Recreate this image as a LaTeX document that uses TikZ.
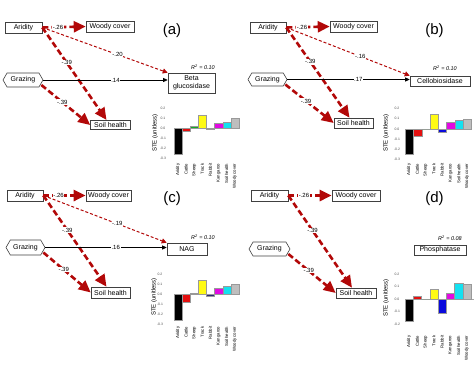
\documentclass[tikz,border=0pt]{standalone}
\usepackage{fontspec}
\setmainfont{Liberation Sans}
\usetikzlibrary{arrows.meta,shapes.symbols}

\definecolor{pathred}{RGB}{178,8,8}
\definecolor{cattle}{RGB}{228,16,16}
\definecolor{sheep}{RGB}{20,170,40}
\definecolor{track}{RGB}{255,250,20}
\definecolor{rabbitdark}{RGB}{40,40,120}
\definecolor{rabbit}{RGB}{10,10,220}
\definecolor{kangaroo}{RGB}{225,10,225}
\definecolor{soilc}{RGB}{20,225,240}
\definecolor{woodyc}{RGB}{190,190,190}

\begin{document}
\begin{tikzpicture}[x=1pt, y=-1pt,
    box/.style={draw=black!75, line width=0.6pt, fill=white, inner sep=1pt, minimum height=11pt, font=\fontsize{7}{8}\selectfont},
    grazebox/.style={shape=signal, signal to=west and east, signal pointer angle=120, draw=black!75, line width=0.6pt, fill=white, inner sep=1pt, font=\fontsize{7}{8}\selectfont},
    redthick/.style={draw=pathred, line width=2.6pt, dash pattern=on 6pt off 3pt, -{Triangle[length=12pt,width=11pt]}},
    redthin/.style={draw=pathred, line width=1pt, dash pattern=on 3pt off 2pt, -{Triangle[length=5pt,width=5pt]}},
    blackarr/.style={draw=black, line width=0.8pt, -{Triangle[length=4.5pt,width=4pt]}},
    coef/.style={fill=white, inner sep=0.6pt, font=\fontsize{6}{7}\selectfont},
    panel/.style={font=\fontsize{15}{17}\selectfont},
    rsq/.style={font=\fontsize{5.5}{6}\selectfont\itshape},
    ticklab/.style={font=\fontsize{3.4}{4}\selectfont, text=black!70},
    catlab/.style={rotate=90, anchor=east, inner sep=0.5pt, font=\fontsize{4.3}{5}\selectfont},
    axlab/.style={rotate=90, font=\fontsize{6}{7}\selectfont},
    bar/.style={draw=black!40, line width=0.2pt},
    zeroline/.style={draw=black!35, line width=0.3pt}
]
\useasboundingbox (0,0) rectangle (474,369);

% Panel (a)
\node[box, minimum width=37pt] (aridA) at (23.5,27.5) {Aridity};
\node[box, minimum width=48pt] (woodyA) at (110,26.5) {Woody cover};
\node[grazebox, minimum width=40pt, minimum height=14pt] (grazA) at (23,80) {Grazing};
\node[box, minimum width=47pt, minimum height=20pt, align=center, font=\fontsize{7}{8.5}\selectfont] (betaA) at (191.5,83) {Beta\\glucosidase};
\node[box, minimum width=40pt, minimum height=9.5pt] (soilA) at (110.5,125) {Soil health};
\node[panel] (tagA) at (172,31) {(a)};
\node[rsq] (rsqA) at (203,67) {R\textsuperscript{2} = 0.10};

\draw[redthick] (aridA.east) -- node[coef, pos=.36] (cA1) {-.26} (woodyA.west);
\draw[redthin] (aridA.east) -- node[coef, pos=.6] (cA2) {-.20} (betaA.north west);
\draw[redthick] (aridA.east) -- node[coef, pos=.38] (cA3) {-.39} ([xshift=-4pt]soilA.north);
\draw[redthick] ([shift={(-2,5)}]grazA.east) -- node[coef, pos=.43] (cA4) {-.39} (soilA.west);
\draw[blackarr] (grazA.east) -- node[coef, pos=.58] (cA5) {.14} (grazA.east -| betaA.west);

% STE bars (a)
\draw[zeroline] (174,128) -- (239,128);
\foreach \v/\c [count=\i from 0] in {-0.26/black, -0.03/cattle, 0.02/sheep, 0.13/track, -0.01/rabbitdark, 0.05/kangaroo, 0.06/soilc, 0.10/woodyc}
  \filldraw[bar, fill=\c] ({174+\i*8.1},128) rectangle ++(8.1,{0-100*(\v)});
\foreach \t [count=\i from 0] in {0.2,0.1,0.0,-0.1,-0.2,-0.3}
  \node[ticklab] (tkA\i) at (163,{108+\i*10}) {\t};
\foreach \t [count=\i from 0] in {Aridity,Cattle,Sheep,Track,Rabbit,Kangaroo,Soil health,Woody cover}
  \node[catlab] (ctA\i) at ({178+\i*8.1},163) {\t};
\node[axlab] (axA) at (155,133) {STE (unitless)};

% Panel (b)
\node[box, minimum width=36pt] (aridB) at (268,27.5) {Aridity};
\node[box, minimum width=47pt] (woodyB) at (353.5,26.5) {Woody cover};
\node[grazebox, minimum width=39pt, minimum height=13pt] (grazB) at (267.5,79.5) {Grazing};
\node[box, minimum width=60pt, minimum height=10pt] (cellB) at (440,81) {Cellobiosidase};
\node[box, minimum width=39pt, minimum height=10pt] (soilB) at (353.5,123) {Soil health};
\node[panel] (tagB) at (434.5,31) {(b)};
\node[rsq] (rsqB) at (445,68) {R\textsuperscript{2} = 0.10};

\draw[redthick] (aridB.east) -- node[coef, pos=.36] (cB1) {-.26} (woodyB.west);
\draw[redthin] (aridB.east) -- node[coef, pos=.6] (cB2) {-.16} (cellB.north west);
\draw[redthick] (aridB.east) -- node[coef, pos=.38] (cB3) {-.39} ([xshift=-4pt]soilB.north);
\draw[redthick] ([shift={(-2,5)}]grazB.east) -- node[coef, pos=.43] (cB4) {-.39} (soilB.west);
\draw[blackarr] (grazB.east) -- node[coef, pos=.58] (cB5) {.17} (grazB.east -| cellB.west);

% STE bars (b)
\draw[zeroline] (405,129) -- (472,129);
\foreach \v/\c [count=\i from 0] in {-0.25/black, -0.07/cattle, 0/sheep, 0.15/track, -0.03/rabbit, 0.07/kangaroo, 0.09/soilc, 0.10/woodyc}
  \filldraw[bar, fill=\c] ({405+\i*8.3},129) rectangle ++(8.3,{0-100*(\v)});
\foreach \t [count=\i from 0] in {0.2,0.1,0.0,-0.1,-0.2,-0.3}
  \node[ticklab] (tkB\i) at (397,{108.5+\i*10.2}) {\t};
\foreach \t [count=\i from 0] in {Aridity,Cattle,Sheep,Track,Rabbit,Kangaroo,Soil health,Woody cover}
  \node[catlab] (ctB\i) at ({409+\i*8.3},163) {\t};
\node[axlab] (axB) at (386,133) {STE (unitless)};

% Panel (c)
\node[box, minimum width=36pt] (aridC) at (25,195.5) {Aridity};
\node[box, minimum width=45pt] (woodyC) at (108.5,195.5) {Woody cover};
\node[grazebox, minimum width=39pt, minimum height=15pt] (grazC) at (25.5,247.5) {Grazing};
\node[box, minimum width=40pt, minimum height=12pt] (nagC) at (187,249) {NAG};
\node[box, minimum width=39pt, minimum height=11pt] (soilC) at (110.5,292.5) {Soil health};
\node[panel] (tagC) at (172,198.5) {(c)};
\node[rsq] (rsqC) at (203,237) {R\textsuperscript{2} = 0.10};

\draw[redthick] (aridC.east) -- node[coef, pos=.36] (cC1) {-.26} (woodyC.west);
\draw[redthin] (aridC.east) -- node[coef, pos=.6] (cC2) {-.19} (nagC.north west);
\draw[redthick] (aridC.east) -- node[coef, pos=.38] (cC3) {-.39} ([xshift=-4pt]soilC.north);
\draw[redthick] ([shift={(-2,5)}]grazC.east) -- node[coef, pos=.43] (cC4) {-.39} (soilC.west);
\draw[blackarr] (grazC.east) -- node[coef, pos=.58] (cC5) {.16} (grazC.east -| nagC.west);

% STE bars (c)
\draw[zeroline] (174,294) -- (239,294);
\foreach \v/\c [count=\i from 0] in {-0.26/black, -0.08/cattle, 0.01/sheep, 0.14/track, -0.02/rabbitdark, 0.06/kangaroo, 0.08/soilc, 0.10/woodyc}
  \filldraw[bar, fill=\c] ({174+\i*8.1},294) rectangle ++(8.1,{0-100*(\v)});
\foreach \t [count=\i from 0] in {0.2,0.1,0.0,-0.1,-0.2,-0.3}
  \node[ticklab] (tkC\i) at (160,{274+\i*10}) {\t};
\foreach \t [count=\i from 0] in {Aridity,Cattle,Sheep,Track,Rabbit,Kangaroo,Soil health,Woody cover}
  \node[catlab] (ctC\i) at ({178+\i*8.1},326) {\t};
\node[axlab] (axC) at (154,297) {STE (unitless)};

% Panel (d)
\node[box, minimum width=37pt] (aridD) at (269.5,195.5) {Aridity};
\node[box, minimum width=48pt] (woodyD) at (356,195.5) {Woody cover};
\node[grazebox, minimum width=41pt, minimum height=14pt] (grazD) at (269.5,249) {Grazing};
\node[box, minimum width=52pt, minimum height=10pt] (phosD) at (440,250) {Phosphatase};
\node[box, minimum width=40pt, minimum height=10pt] (soilD) at (356,293) {Soil health};
\node[panel] (tagD) at (434.5,198.5) {(d)};
\node[rsq] (rsqD) at (450,238) {R\textsuperscript{2} = 0.08};

\draw[redthick] (aridD.east) -- node[coef, pos=.36] (cD1) {-.26} (woodyD.west);
\draw[redthick] (aridD.east) -- node[coef, pos=.38] (cD3) {-.39} ([xshift=-4pt]soilD.north);
\draw[redthick] ([shift={(-2,5)}]grazD.east) -- node[coef, pos=.43] (cD4) {-.39} (soilD.west);

% STE bars (d)
\draw[zeroline] (405,299) -- (474,299);
\foreach \v/\c [count=\i from 0] in {-0.18/black, 0.02/cattle, 0/sheep, 0.08/track, -0.11/rabbit, 0.05/kangaroo, 0.13/soilc, 0.12/woodyc}
  \filldraw[bar, fill=\c] ({405+\i*8.25},299) rectangle ++(8.25,{0-125*(\v)});
\foreach \t [count=\i from 0] in {0.2,0.1,0.0,-0.1,-0.2}
  \node[ticklab] (tkD\i) at (397,{274+\i*12.5}) {\t};
\foreach \t [count=\i from 0] in {Aridity,Cattle,Sheep,Track,Rabbit,Kangaroo,Soil health,Woody cover}
  \node[catlab] (ctD\i) at ({409+\i*8.25},335) {\t};
\node[axlab] (axD) at (386,298) {STE (unitless)};

\end{tikzpicture}
\end{document}
